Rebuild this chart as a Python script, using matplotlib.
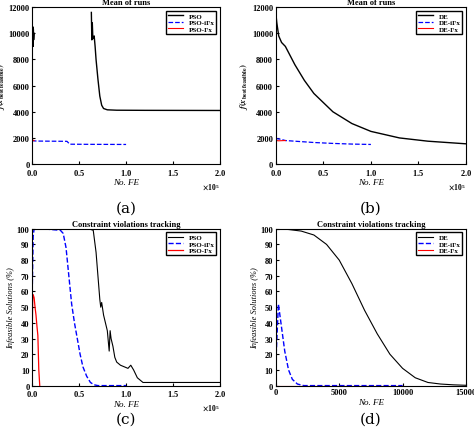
import matplotlib
matplotlib.use("Agg")
import matplotlib.pyplot as plt
import numpy as np

plt.rcParams['font.family'] = ['Liberation Serif', 'DejaVu Serif']
plt.rcParams['font.weight'] = 'bold'
plt.rcParams['mathtext.fontset'] = 'stix'

# Panel (a) mean of runs, PSO family
a_pso1_x = [0, 300, 600, 900, 1200, 1500, 2000]
a_pso1_y = [10200, 9200, 10500, 9000, 10300, 9500, 10000]
a_pso2_x = [63000, 63500, 64000, 64500, 65000, 66000, 67000, 68000, 70000, 72000, 74000, 76000, 80000, 90000, 120000, 200000]
a_pso2_y = [11600, 9500, 10800, 9800, 9600, 9800, 9000, 8000, 6500, 5200, 4500, 4250, 4150, 4120, 4110, 4100]
a_ifx_x = [0, 1000, 5000, 20000, 37000, 40000, 60000, 100000]
a_ifx_y = [1850, 1780, 1760, 1750, 1740, 1520, 1510, 1500]
a_fx_x = [0, 200, 500, 1000, 2000]
a_fx_y = [2800, 2000, 1850, 1800, 1790]

# Panel (b) mean of runs, DE family
b_de_x = [0, 1000, 3000, 6000, 10000, 15000, 20000, 30000, 40000, 60000, 80000, 100000, 130000, 160000, 200000]
b_de_y = [11500, 10800, 9800, 9300, 9000, 8300, 7600, 6400, 5400, 4000, 3100, 2500, 2000, 1750, 1550]
b_ifx_x = [0, 5000, 10000, 20000, 40000, 60000, 80000, 100000]
b_ifx_y = [1950, 1900, 1800, 1750, 1650, 1580, 1530, 1500]
b_fx_x = [0, 3000, 6000, 10000]
b_fx_y = [1800, 1780, 1790, 1800]

# Panel (c) infeasible solutions, PSO family
c_pso_x = [0, 60000, 65000, 68000, 70000, 72000, 73000, 74000, 76000, 78000, 80000, 82000, 83000, 84000, 86000, 88000, 90000, 94000, 98000, 102000, 105000, 108000, 112000, 118000, 130000, 200000]
c_pso_y = [100, 100, 99, 85, 70, 55, 50, 53, 45, 40, 35, 22, 35, 30, 25, 18, 15, 13, 12, 11, 13, 10, 5, 2, 2, 2]
c_ifx_x = [0, 1000, 2000, 10000, 30000, 33000, 36000, 39000, 42000, 45000, 48000, 51000, 54000, 58000, 62000, 66000, 70000, 100000]
c_ifx_y = [60, 95, 100, 100, 99, 97, 88, 70, 52, 40, 30, 20, 12, 6, 2, 0.5, 0, 0]
c_fx_x = [0, 500, 1000, 2000, 3000, 4000, 5000, 6000, 7000, 8000]
c_fx_y = [35, 55, 58, 56, 50, 45, 38, 32, 10, 0]

# Panel (d) infeasible solutions, DE family
d_de_x = [0, 1000, 2000, 3000, 4000, 5000, 6000, 7000, 8000, 9000, 10000, 11000, 12000, 13000, 14000, 15000]
d_de_y = [100, 99.5, 98.5, 96, 90, 80, 65, 48, 33, 20, 11, 5, 2, 1, 0.5, 0.2]
d_ifx_x = [0, 200, 400, 700, 1000, 1300, 1700, 2200, 10000]
d_ifx_y = [15, 52, 40, 22, 10, 4, 1, 0, 0]
d_fx_x = [0, 500, 10000]
d_fx_y = [0, 0, 0]

fig = plt.figure(figsize=(4.74, 4.31), dpi=100)
pos = [[0.068, 0.617, 0.396, 0.364], [0.582, 0.617, 0.401, 0.364],
       [0.068, 0.103, 0.396, 0.364], [0.582, 0.103, 0.401, 0.364]]
axs = [fig.add_axes(p) for p in pos]

def style(ax, title, ylabel, xlim, ylim, xt, yt, sci=True):
    ax.set_title(title, fontsize=6, fontweight='bold', pad=2)
    ax.set_xlim(*xlim); ax.set_ylim(*ylim)
    ax.set_xticks(xt); ax.set_yticks(yt)
    ax.tick_params(labelsize=6, length=2, pad=2, direction='in')
    ax.set_xlabel('No. FE', fontsize=6.5, style='italic', labelpad=1)
    ax.set_ylabel(ylabel, fontsize=6, style='italic', labelpad=1)
    if sci:
        ax.ticklabel_format(axis='x', style='sci', scilimits=(0, 0), useMathText=True)
        ax.xaxis.get_offset_text().set_fontsize(5.5)
    ax.legend(fontsize=5, loc='upper right', handlelength=2.2, borderpad=0.3,
              labelspacing=0.1, fancybox=False, edgecolor='black', framealpha=1)

ylab_f = r'$f(x_{\mathrm{best\ feasible}})$'
ax = axs[0]
ax.plot(a_pso1_x, a_pso1_y, color='black', lw=1.0, label='PSO')
ax.plot(a_pso2_x, a_pso2_y, color='black', lw=1.0)
ax.plot(a_ifx_x, a_ifx_y, color='blue', lw=0.9, ls='--', label='PSO-iFx')
ax.plot(a_fx_x, a_fx_y, color='red', lw=0.8, label='PSO-Fx')
style(ax, 'Mean of runs', ylab_f, (0, 200000), (0, 12000), [0, 50000, 100000, 150000, 200000], range(0, 12001, 2000))

ax = axs[1]
ax.plot(b_de_x, b_de_y, color='black', lw=1.0, label='DE')
ax.plot(b_ifx_x, b_ifx_y, color='blue', lw=0.9, ls='--', label='DE-iFx')
ax.plot(b_fx_x, b_fx_y, color='red', lw=0.8, label='DE-Fx')
style(ax, 'Mean of runs', ylab_f, (0, 200000), (0, 12000), [0, 50000, 100000, 150000, 200000], range(0, 12001, 2000))

ax = axs[2]
ax.plot(c_pso_x, c_pso_y, color='black', lw=0.8, label='PSO')
ax.plot(c_ifx_x, c_ifx_y, color='blue', lw=1.0, ls='--', label='PSO-iFx')
ax.plot(c_fx_x, c_fx_y, color='red', lw=0.9, label='PSO-Fx')
style(ax, 'Constraint violations tracking', 'Infeasible Solutions (%)', (0, 200000), (0, 100), [0, 50000, 100000, 150000, 200000], range(0, 101, 10))

ax = axs[3]
ax.plot(d_de_x, d_de_y, color='black', lw=0.8, label='DE')
ax.plot(d_ifx_x, d_ifx_y, color='blue', lw=1.0, ls='--', label='DE-iFx')
ax.plot(d_fx_x, d_fx_y, color='red', lw=0.8, label='DE-Fx')
style(ax, 'Constraint violations tracking', 'Infeasible Solutions (%)', (0, 15000), (0, 100), [0, 5000, 10000, 15000], range(0, 101, 10), sci=False)

for lab, x, y in [('(a)', 0.266, 0.5), ('(b)', 0.782, 0.5), ('(c)', 0.266, 0.01), ('(d)', 0.782, 0.01)]:
    fig.text(x, y, lab, fontsize=11, fontweight='normal', ha='center', va='bottom', family='DejaVu Serif')

fig.savefig('out.png', dpi=100)
